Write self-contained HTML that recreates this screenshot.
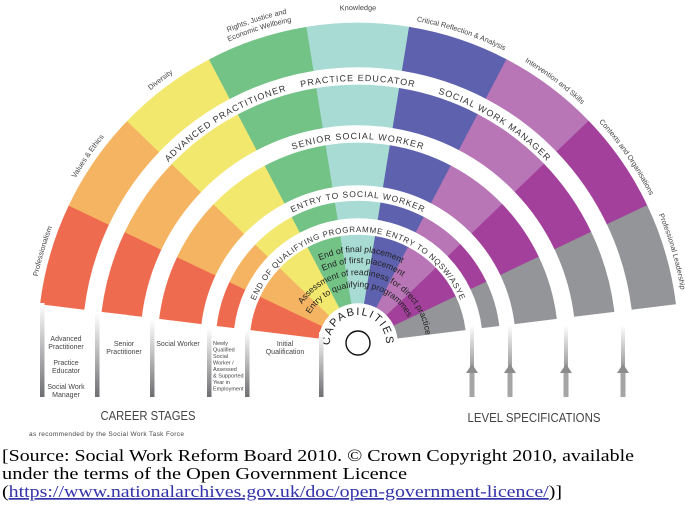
<!DOCTYPE html>
<html><head><meta charset="utf-8">
<style>
html,body{margin:0;padding:0;background:#fff;}
svg{display:block;}
.lab{font-family:"Liberation Sans",sans-serif;font-size:7.3px;fill:#444;}
.gap{font-family:"Liberation Sans",sans-serif;font-size:9px;fill:#333;letter-spacing:1px;}
.inner{font-family:"Liberation Sans",sans-serif;font-size:8.6px;fill:#222;}
.small{font-family:"Liberation Sans",sans-serif;font-size:7px;fill:#444;}
.src{font-family:"Liberation Serif",serif;font-size:17px;fill:#000;}
</style></head>
<body>
<svg id="chart" width="685" height="511" viewBox="0 0 685 511" xmlns="http://www.w3.org/2000/svg">
<defs id="defs">
  <linearGradient id="barGrad" x1="0" y1="0" x2="0" y2="1">
    <stop offset="0" stop-color="#fff"/><stop offset="1" stop-color="#6d6e71"/>
  </linearGradient>
  <linearGradient id="arrGrad" x1="0" y1="0" x2="0" y2="1">
    <stop offset="0" stop-color="#fff"/><stop offset="1" stop-color="#9a9a9a"/>
  </linearGradient>
</defs>
<g id="wedges"></g>
<g id="labels"></g>
<circle cx="358" cy="343" r="12" fill="none" stroke="#111" stroke-width="1.4"/>
<g id="bottom"></g>

<g>
  <text class="small" x="66" y="341" text-anchor="middle">Advanced</text>
  <text class="small" x="66" y="349" text-anchor="middle">Practitioner</text>
  <text class="small" x="66" y="365" text-anchor="middle">Practice</text>
  <text class="small" x="66" y="373" text-anchor="middle">Educator</text>
  <text class="small" x="66" y="389" text-anchor="middle">Social Work</text>
  <text class="small" x="66" y="397" text-anchor="middle">Manager</text>
  <text class="small" x="124" y="346" text-anchor="middle">Senior</text>
  <text class="small" x="124" y="354" text-anchor="middle">Practitioner</text>
  <text class="small" x="178" y="346" text-anchor="middle">Social Worker</text>
  <text class="small" x="213" y="345" style="font-size:5.5px">Newly</text>
  <text class="small" x="213" y="351.5" style="font-size:5.5px">Qualified</text>
  <text class="small" x="213" y="358" style="font-size:5.5px">Social</text>
  <text class="small" x="213" y="364.5" style="font-size:5.5px">Worker /</text>
  <text class="small" x="213" y="371" style="font-size:5.5px">Assessed</text>
  <text class="small" x="213" y="377.5" style="font-size:5.5px">&amp; Supported</text>
  <text class="small" x="213" y="384" style="font-size:5.5px">Year in</text>
  <text class="small" x="213" y="390.5" style="font-size:5.5px">Employment</text>
  <text class="small" x="285" y="346" text-anchor="middle">Initial</text>
  <text class="small" x="285" y="354" text-anchor="middle">Qualification</text>
</g>
<text x="148" y="420" text-anchor="middle" textLength="95" lengthAdjust="spacingAndGlyphs" style="font-family:'Liberation Sans',sans-serif;font-size:13px;fill:#444">CAREER STAGES</text>
<text x="29" y="436" style="font-family:'Liberation Sans',sans-serif;font-size:6.5px;fill:#444" textLength="155">as recommended by the Social Work Task Force</text>
<text x="534" y="422" text-anchor="middle" textLength="133" lengthAdjust="spacingAndGlyphs" style="font-family:'Liberation Sans',sans-serif;font-size:13px;fill:#444">LEVEL SPECIFICATIONS</text>

<g>
  <text class="src" x="2" y="461" textLength="632" lengthAdjust="spacingAndGlyphs">[Source: Social Work Reform Board 2010. © Crown Copyright 2010, available</text>
  <text class="src" x="2" y="479" textLength="405" lengthAdjust="spacingAndGlyphs">under the terms of the Open Government Licence</text>
  <text class="src" x="2" y="497" textLength="560" lengthAdjust="spacingAndGlyphs">(<tspan fill="#3333aa" text-decoration="underline">https://www.nationalarchives.gov.uk/doc/open-government-licence/</tspan>)]</text>
</g>
</svg>
<script>
const capabilities=["Professionalism","Values & Ethics","Diversity","Rights, Justice and Economic Wellbeing","Knowledge","Critical Reflection & Analysis","Intervention and Skills","Contexts and Organisations","Professional Leadership"];
const segColors=["#ef6b4f","#f5b461","#f3e86e","#73c387","#a7dbd3","#5e61ae","#b876b6","#a3409c","#939598"];
const ringNames=["outer-ring","advanced-ring","social-worker-ring","nqsw-ring","qualifying-fan"];
const careerBarsX=[42,97,152,209,247,321];
const levelArrowsX=[472,510,566,623];

const NS="http://www.w3.org/2000/svg";
const cx=358, cy=343;
const rings=[[320,276],[258,218],[200,158],[142,125],[108,40]];
const startA=173, endA=7;
function P(r,a){const t=a*Math.PI/180;return [cx+r*Math.cos(t), cy-r*Math.sin(t)];}
function mk(tag,attrs,parent){const e=document.createElementNS(NS,tag);for(const k in attrs)e.setAttribute(k,attrs[k]);parent.appendChild(e);return e;}
const wg=document.getElementById('wedges');
const step=(startA-endA)/capabilities.length;
rings.forEach((rg,ri)=>{
  const [R,r]=rg;
  capabilities.forEach((c,i)=>{
    const a1=startA-i*step, a2=a1-step;
    const p1=P(R,a1),p2=P(R,a2),p3=P(r,a2),p4=P(r,a1);
    const d=`M${p1[0]},${p1[1]} A${R},${R} 0 0 1 ${p2[0]},${p2[1]} L${p3[0]},${p3[1]} A${r},${r} 0 0 0 ${p4[0]},${p4[1]} Z`;
    const el=mk('path',{d:d,fill:segColors[i],stroke:segColors[i],'stroke-width':0.6},wg);
    
    
  });
});
const defs=document.getElementById('defs');
let pid=0;
function arcPath(r){
  const id='arc'+(pid++);
  const a=P(r,250),b=P(r,-70);
  mk('path',{id:id,d:`M${a[0]},${a[1]} A${r},${r} 0 1 1 ${b[0]},${b[1]}`,fill:'none'},defs);
  return id;
}
const lg=document.getElementById('labels');
function arcText(txt,r,ang,cls,name,extra){
  const id=arcPath(r);
  const t=mk('text',{class:cls},lg);
  
  
  if(extra) for(const k in extra) t.setAttribute(k,extra[k]);
  const tp=mk('textPath',{href:'#'+id,startOffset:((250-ang)/320*100)+'%','text-anchor':'middle'},t);
  tp.textContent=txt;
}
capabilities.forEach((c,i)=>{
  const ang=startA-(i+0.5)*step;
  if(i===3){
    arcText("Rights, Justice and",337,ang-1,'lab','capability-label-'+(i+1));
    arcText("Economic Wellbeing",328,ang-1,'lab','capability-label-'+(i+1)+'-line2');
  } else {
    arcText(c,i===4?333:327,ang,'lab','capability-label-'+(i+1));
  }
});
arcText("ADVANCED  PRACTITIONER",262,121,'gap','advanced-practitioner-label');
arcText("PRACTICE  EDUCATOR",262,90,'gap','practice-educator-label');
arcText("SOCIAL WORK MANAGER",262,58,'gap','social-work-manager-label');
arcText("SENIOR SOCIAL WORKER",204,90,'gap','senior-social-worker-label');
arcText("ENTRY TO SOCIAL WORKER",146,90,'gap','entry-social-worker-label',{style:'font-size:8.5px;letter-spacing:0.9px'});
arcText("END OF QUALIFYING PROGRAMME ENTRY TO NQSW/ASYE",111,90,'gap','qualifying-programme-label',{style:'font-size:8px;letter-spacing:0.7px'});
arcText("End of final placement",91,88,'inner','end-final-placement');
arcText("End of first placement",80,86,'inner','end-first-placement');
arcText("Assessment of readiness for direct practice",68,76,'inner','assessment-readiness');
arcText("Entry to qualifying programmes",56,88,'inner','entry-qualifying');
arcText("CAPABILITIES",28,90,'gap','capabilities-label',{style:'font-size:11px;letter-spacing:1.6px;fill:#222'});

const bg=document.getElementById('bottom');
const barTops=[303,313,320,328,330,332];
careerBarsX.forEach((x,i)=>{
  const el=mk('rect',{x:x-2,y:barTops[i],width:4.5,height:397-barTops[i],fill:'url(#barGrad)'},bg);
  
  
});
levelArrowsX.forEach((x)=>{
  const g=mk('g',{},bg);
  
  
  mk('rect',{x:x-2,y:325,width:4,height:42,fill:'url(#arrGrad)'},g);
  mk('rect',{x:x-2.5,y:372,width:5,height:25,fill:'#a5a5a5'},g);
  mk('polygon',{points:`${x-6},373 ${x+6},373 ${x},364`,fill:'#8c8c8c'},g);
});
</script>
</body></html>
